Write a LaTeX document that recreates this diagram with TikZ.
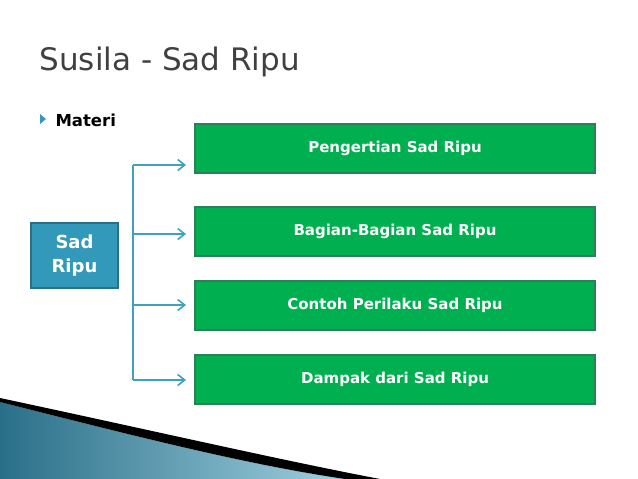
\documentclass[tikz,border=0pt]{standalone}
\usepackage{fontspec}
\setmainfont{DejaVu Sans}
\usetikzlibrary{arrows.meta}
\definecolor{gbox}{HTML}{00B050}
\definecolor{gedge}{HTML}{2E7D5B}
\definecolor{tbox}{HTML}{3399BB}
\definecolor{tedge}{HTML}{2A6F88}
\definecolor{arr}{HTML}{3FA0C0}
\tikzset{
 gstep/.style={draw=gedge,line width=1.2pt,fill=gbox,minimum width=400pt,minimum height=49pt,text=white,font=\bfseries\fontsize{15}{18}\selectfont},
 conn/.style={draw=arr,line width=1.6pt,-{Straight Barb[length=7pt,width=11pt]}}
}
\begin{document}
\begin{tikzpicture}[x=1pt,y=-1pt]
\useasboundingbox (0,0) rectangle (638,479);
\fill[white] (0,0) rectangle (638,479);
% swoosh
\shade[left color=tedge,right color=arr!50] (0,402) .. controls (150,440) and (250,465) .. (345,479) -- (0,479) -- cycle;
\fill[black] (0,398) .. controls (150,430) and (280,460) .. (380,479) -- (345,479) .. controls (250,465) and (150,440) .. (0,402) -- cycle;
\node[anchor=base west,text=black!75,font=\fontsize{31}{34}\selectfont] (title) at (36,70) {Susila - Sad Ripu};
\fill[tbox] (40,114) -- (46,119) -- (40,124) -- cycle;
\node[anchor=base west,font=\bfseries\fontsize{16.5}{18}\selectfont] (mat) at (52,126) {Materi};
\node[gstep] (b1) at (395,148.5) {Pengertian Sad Ripu};
\node[gstep] (b2) at (395,231.5) {Bagian-Bagian Sad Ripu};
\node[gstep] (b3) at (395,305.5) {Contoh Perilaku Sad Ripu};
\node[gstep] (b4) at (395,379.5) {Dampak dari Sad Ripu};
\node[draw=tedge,line width=1.2pt,fill=tbox,minimum width=87pt,minimum height=65pt,text=white,align=center,font=\bfseries\fontsize{18}{24}\selectfont] (sr) at (74.5,255.5) {Sad\\Ripu};
\coordinate (t1) at (133,165);
\coordinate (t4) at (133,380);
\draw[arr,line width=1.6pt] (t1) -- (t4);
\draw[conn] (t1) -- (186,165);
\draw[conn] (133,234) -- (186,234);
\draw[conn] (133,305) -- (186,305);
\draw[conn] (t4) -- (186,380);
\end{tikzpicture}
\end{document}
